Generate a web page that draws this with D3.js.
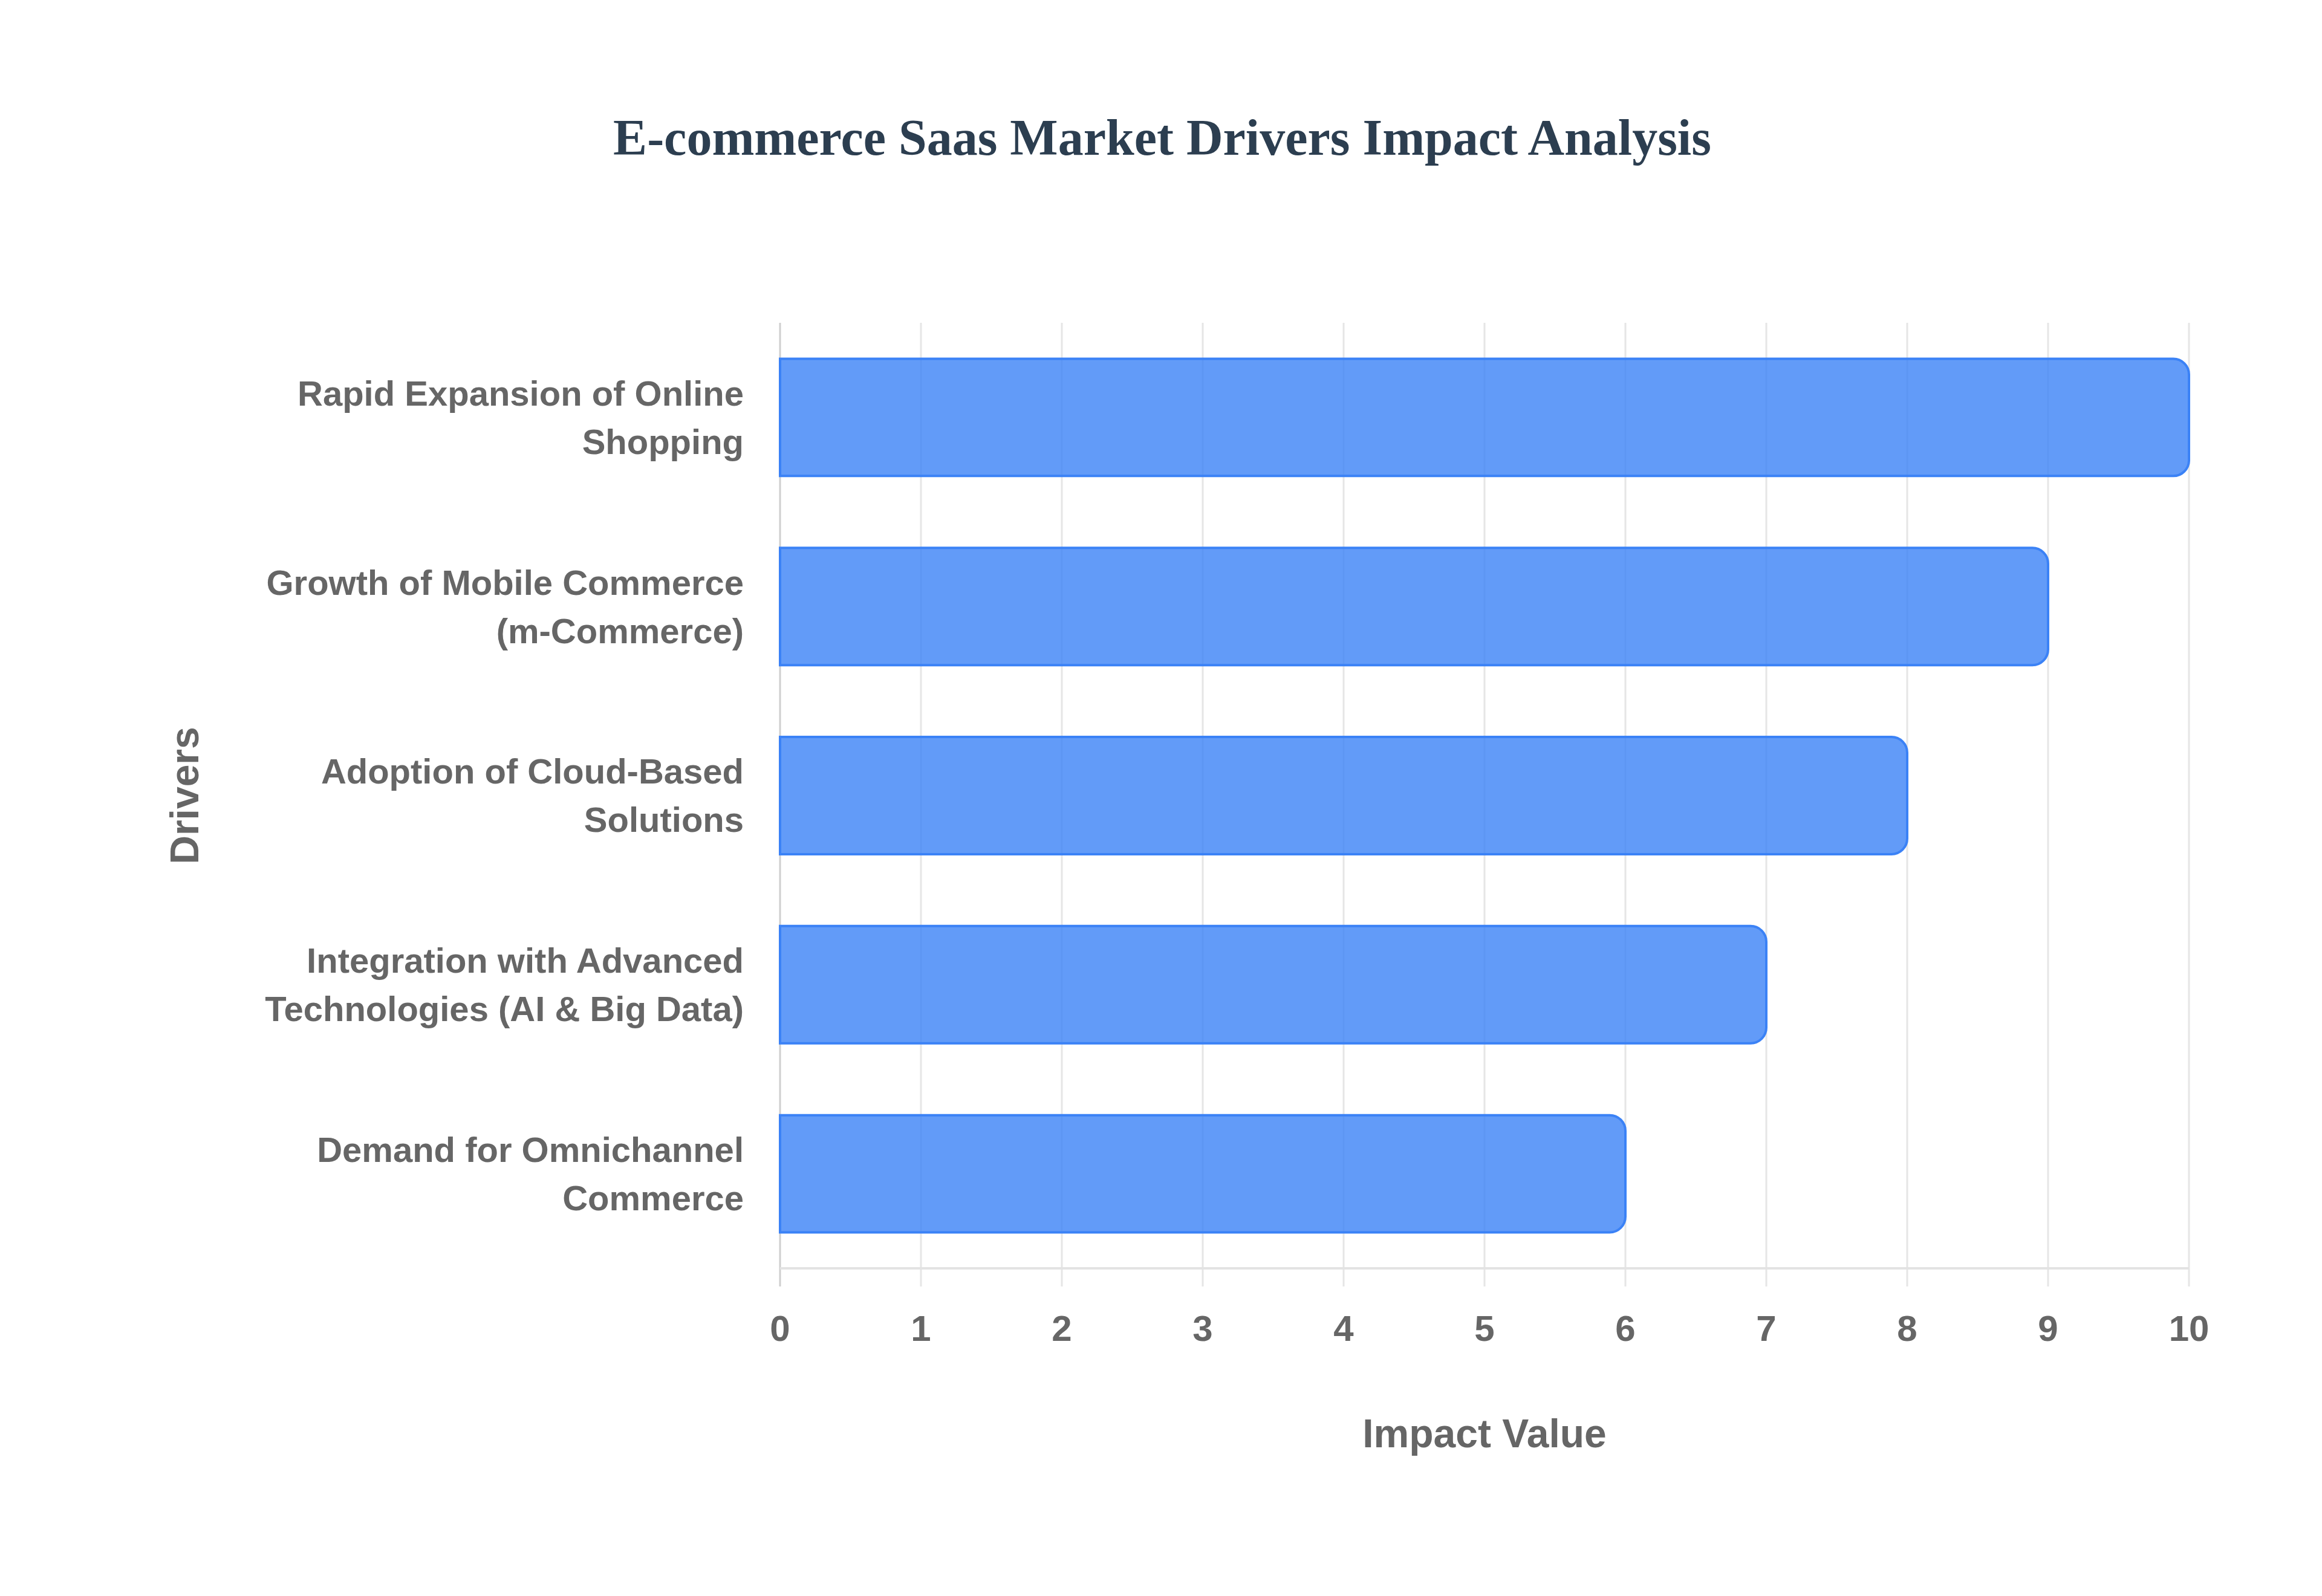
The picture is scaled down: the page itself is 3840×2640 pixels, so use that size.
<!DOCTYPE html>
<html>
<head>
<meta charset="utf-8">
<script src="https://cdn.jsdelivr.net/npm/d3@7"></script>
<style>
  body { margin: 0; background: #fff; }
  svg { display: block; }
</style>
</head>
<body>
<svg id="chart"></svg>
<script>
// chart data
const drivers = [
    "Rapid Expansion of Online Shopping",
    "Growth of Mobile Commerce (m-Commerce)",
    "Adoption of Cloud-Based Solutions",
    "Integration with Advanced Technologies (AI & Big Data)",
    "Demand for Omnichannel Commerce"
]
const driverLines = [
    ["Rapid Expansion of Online", "Shopping"],
    ["Growth of Mobile Commerce", "(m-Commerce)"],
    ["Adoption of Cloud-Based", "Solutions"],
    ["Integration with Advanced", "Technologies (AI & Big Data)"],
    ["Demand for Omnichannel", "Commerce"]
]
const impactValues = [10, 9, 8, 7, 6]
const xTicks = [0, 1, 2, 3, 4, 5, 6, 7, 8, 9, 10]

const width = 3840
const height = 2640
const margins = {left: 1290, right: 220, top: 534, bottom: 542}

const svg = d3.select("#chart").attr("width", width).attr("height", height)

const scaleX = d3.scaleLinear().domain([0, 10]).range([margins.left, width - margins.right])
const scaleY = d3.scaleBand().domain(drivers).range([margins.top, height - margins.bottom]).paddingInner(0.38).paddingOuter(0.19)

const plotBottom = height - margins.bottom
const labelColor = "#666666"
const sansFont = "'Liberation Sans', Arial, Helvetica, sans-serif"

// title
svg.append("text")
    .text("E-commerce Saas Market Drivers Impact Analysis")
    .attr("x", 1922)
    .attr("y", 256)
    .attr("text-anchor", "middle")
    .attr("font-family", "'Liberation Serif', 'Times New Roman', serif")
    .attr("font-weight", "bold")
    .attr("font-size", 84)
    .attr("fill", "#2c3e50")

// vertical grid lines (also act as tick marks below the axis)
svg.append("g").attr("id", "grid")
    .selectAll("line")
    .data(xTicks)
    .join("line")
    .attr("x1", d => scaleX(d))
    .attr("x2", d => scaleX(d))
    .attr("y1", margins.top)
    .attr("y2", plotBottom + 30)
    .attr("stroke", d => d === 0 ? "#cfcfcf" : "#e6e6e6")
    .attr("stroke-width", 3)

// bottom axis line
svg.append("line")
    .attr("x1", margins.left)
    .attr("x2", scaleX(10))
    .attr("y1", plotBottom)
    .attr("y2", plotBottom)
    .attr("stroke", "#e3e3e3")
    .attr("stroke-width", 4)

// bars with rounded right end
const barPath = (x0, y0, w, h, r) => {
    r = Math.min(r, h / 2, w)
    return `M${x0},${y0} H${x0 + w - r} A${r},${r} 0 0 1 ${x0 + w},${y0 + r} V${y0 + h - r} A${r},${r} 0 0 1 ${x0 + w - r},${y0 + h} H${x0} Z`
}

svg.append("g").attr("id", "bars")
    .selectAll("path")
    .data(drivers.map((d, i) => ({driver: d, value: impactValues[i]})))
    .join("path")
    .attr("d", d => barPath(scaleX(0), scaleY(d.driver), scaleX(d.value) - scaleX(0), scaleY.bandwidth(), 26))
    .attr("fill", "rgba(59, 130, 246, 0.8)")
    .attr("stroke", "rgb(59, 130, 246)")
    .attr("stroke-width", 4)

// x tick labels
svg.append("g").attr("id", "x-ticks")
    .selectAll("text")
    .data(xTicks)
    .join("text")
    .text(d => d)
    .attr("x", d => scaleX(d))
    .attr("y", plotBottom + 120)
    .attr("text-anchor", "middle")
    .attr("font-family", sansFont)
    .attr("font-weight", "bold")
    .attr("font-size", 60)
    .attr("fill", labelColor)

// y category labels
const lineHeight = 80
const yLabels = svg.append("g").attr("id", "y-labels")
    .selectAll("text")
    .data(drivers)
    .join("text")
    .attr("text-anchor", "end")
    .attr("font-family", sansFont)
    .attr("font-weight", "bold")
    .attr("font-size", 58)
    .attr("fill", labelColor)

yLabels.each(function(d, i) {
    const lines = driverLines[i]
    const center = scaleY(d) + scaleY.bandwidth() / 2
    d3.select(this).selectAll("tspan")
        .data(lines)
        .join("tspan")
        .attr("x", 1230)
        .attr("y", (l, j) => center + (j - (lines.length - 1) / 2) * lineHeight)
        .attr("dy", "0.35em")
        .text(l => l)
})

// axis titles
svg.append("text")
    .text("Impact Value")
    .attr("x", (scaleX(0) + scaleX(10)) / 2)
    .attr("y", 2394)
    .attr("text-anchor", "middle")
    .attr("font-family", sansFont)
    .attr("font-weight", "bold")
    .attr("font-size", 66)
    .attr("fill", labelColor)

svg.append("text")
    .text("Drivers")
    .attr("transform", `translate(328, ${(margins.top + plotBottom) / 2}) rotate(-90)`)
    .attr("text-anchor", "middle")
    .attr("font-family", sansFont)
    .attr("font-weight", "bold")
    .attr("font-size", 66)
    .attr("fill", labelColor)
</script>
</body>
</html>
